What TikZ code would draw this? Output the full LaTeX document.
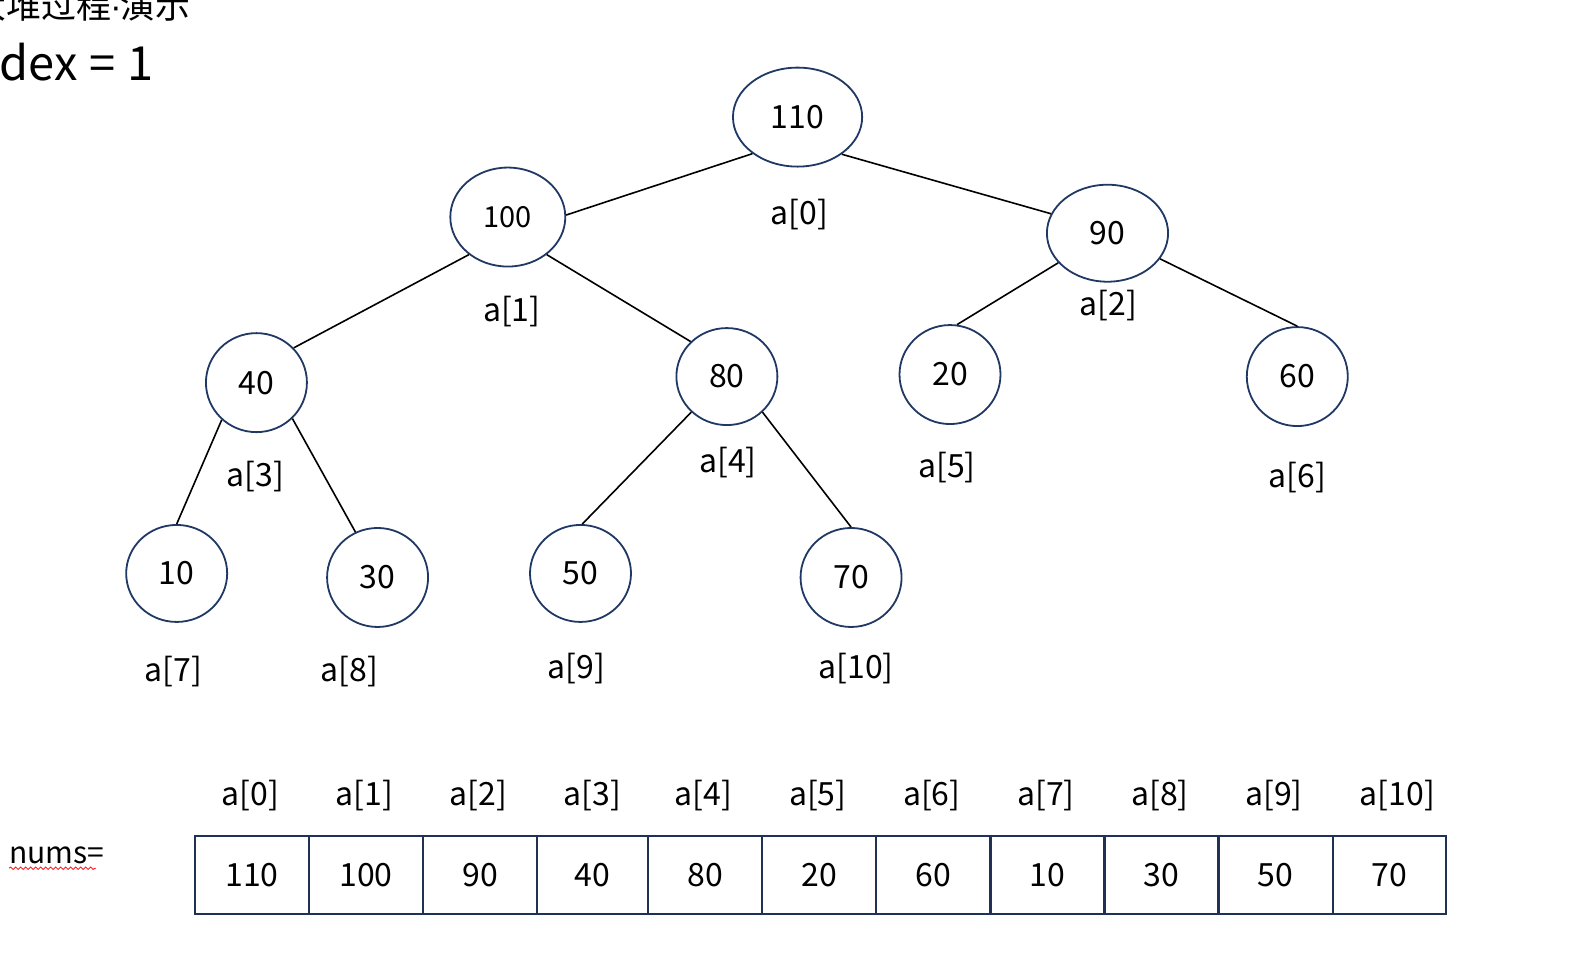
\documentclass[tikz,border=0pt]{standalone}
\usepackage{fontspec}
\setmainfont{Noto Sans CJK SC}
\newfontfamily\latinfont{Liberation Sans}
\usetikzlibrary{shapes.geometric,decorations.pathmorphing}
\definecolor{navy}{HTML}{203864}
\definecolor{cellnavy}{HTML}{1F3154}
\tikzset{
  heapnode/.style={ellipse,draw=navy,line width=0.9pt,inner sep=0pt,font=\fontsize{16}{18}\selectfont},
  idx/.style={font=\fontsize{16}{18}\selectfont,inner sep=0pt},
  edge/.style={line width=0.8pt,black},
  cell/.style={rectangle,draw=cellnavy,line width=1.1pt,minimum height=38.9pt,inner sep=0pt,font=\fontsize{16}{18}\selectfont},
}
\begin{document}
\begin{tikzpicture}[x=0.5048pt,y=-0.5048pt]
\useasboundingbox (0,0) rectangle (1568,969);
\fill[white] (0,0) rectangle (1568,969);
% title texts (clipped at page edge, as in the reference)
\node[anchor=base west,inner sep=0pt,font=\fontsize{17.5}{20}\selectfont] (title) at (-29,18) {大堆过程{\latinfont\kern-0.5pt·\kern-0.5pt}演示};
\node[anchor=base west,inner sep=0pt,font=\fontsize{23.5}{26}\selectfont] (index) at (-1,80) {dex\kern6pt=\kern6pt1};
% heap nodes
\node[heapnode,minimum width=64.6pt,minimum height=49.5pt] (n0) at (790,116) {110};
\node[heapnode,minimum width=57.5pt,minimum height=49.5pt,font=\fontsize{14.5}{16}\selectfont] (n1) at (503,215) {100};
\node[heapnode,minimum width=60.6pt,minimum height=48.5pt] (n2) at (1097,231) {90};
\node[heapnode,minimum width=50.5pt,minimum height=49.5pt] (n3) at (254,379) {40};
\node[heapnode,minimum width=50.5pt,minimum height=48.5pt] (n4) at (720,373) {80};
\node[heapnode,minimum width=50.5pt,minimum height=49.5pt] (n5) at (941,371) {20};
\node[heapnode,minimum width=50.5pt,minimum height=49.5pt] (n6) at (1285,373) {60};
\node[heapnode,minimum width=50.5pt,minimum height=48.5pt] (n7) at (175,568) {10};
\node[heapnode,minimum width=50.5pt,minimum height=49.5pt] (n8) at (374,572) {30};
\node[heapnode,minimum width=50.5pt,minimum height=48.5pt] (n9) at (575,568) {50};
\node[heapnode,minimum width=50.5pt,minimum height=49.5pt] (n10) at (843,572) {70};
% edges
\draw[edge] (n0.219) -- (n1.2);
\draw[edge] (n0.320) -- (n2.161);
\draw[edge] (n1.224) -- (n3.43);
\draw[edge] (n1.316) -- (n4.136);
\draw[edge] (n2.211) -- (n5.82);
\draw[edge] (n2.334) -- (n6.90);
\draw[edge] (n3.227) -- (n7.90);
\draw[edge] (n3.315) -- (n8.116);
\draw[edge] (n4.225) -- (n9.88);
\draw[edge] (n4.315) -- (n10.90);
% index labels
\node[idx] (l0) at (792,213) {a[0]};
\node[idx] (l1) at (507,309) {a[1]};
\node[idx] (l2) at (1098,303) {a[2]};
\node[idx] (l3) at (253,472) {a[3]};
\node[idx] (l4) at (721,458) {a[4]};
\node[idx] (l5) at (938,463) {a[5]};
\node[idx] (l6) at (1285,473) {a[6]};
\node[idx] (l7) at (172,665) {a[7]};
\node[idx] (l8) at (346,665) {a[8]};
\node[idx] (l9) at (571,662) {a[9]};
\node[idx] (l10) at (848,662) {a[10]};
% array
\node[anchor=base west,inner sep=0pt,font=\fontsize{15}{18}\selectfont] (nums) at (9,855) {nums=};
\draw[red,line width=0.4pt,decorate,decoration={snake,amplitude=0.6pt,segment length=2.5pt}] (9,860) -- (95,860);
\node[cell,minimum width=57.0pt] (c0) at (249.5,866.5) {110};
\node[cell,minimum width=57.0pt] (c1) at (362.5,866.5) {100};
\node[cell,minimum width=57.0pt] (c2) at (475.5,866.5) {90};
\node[cell,minimum width=55.5pt] (c3) at (587,866.5) {40};
\node[cell,minimum width=57.0pt] (c4) at (698.5,866.5) {80};
\node[cell,minimum width=57.0pt] (c5) at (811.5,866.5) {20};
\node[cell,minimum width=57.0pt] (c6) at (924.5,866.5) {60};
\node[cell,minimum width=57.0pt] (c7) at (1037.5,866.5) {10};
\node[cell,minimum width=57.0pt] (c8) at (1150.5,866.5) {30};
\node[cell,minimum width=57.0pt] (c9) at (1263.5,866.5) {50};
\node[cell,minimum width=56.5pt] (c10) at (1376,866.5) {70};
\node[idx] (h0) at (248,788) {a[0]};
\node[idx] (h1) at (361,788) {a[1]};
\node[idx] (h2) at (474,788) {a[2]};
\node[idx] (h3) at (587,788) {a[3]};
\node[idx] (h4) at (697,788) {a[4]};
\node[idx] (h5) at (810,788) {a[5]};
\node[idx] (h6) at (923,788) {a[6]};
\node[idx] (h7) at (1036,788) {a[7]};
\node[idx] (h8) at (1149,788) {a[8]};
\node[idx] (h9) at (1262,788) {a[9]};
\node[idx] (h10) at (1384,788) {a[10]};
\end{tikzpicture}
\end{document}
